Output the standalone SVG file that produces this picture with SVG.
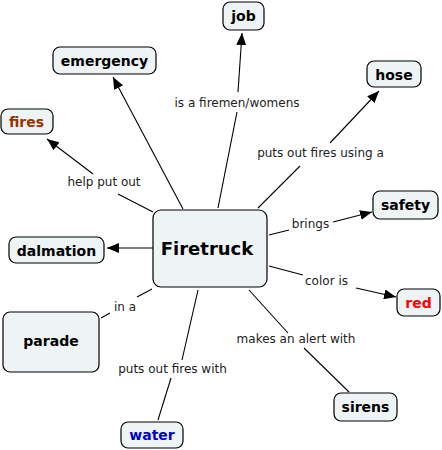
<svg xmlns="http://www.w3.org/2000/svg" width="442" height="450" viewBox="0 0 442 450">
<defs>
<marker id="arr" viewBox="0 0 12 10" refX="12" refY="5" markerWidth="12" markerHeight="10" markerUnits="userSpaceOnUse" orient="auto">
<path d="M0,0 L12,5 L0,10 z" fill="#000"/>
</marker>
<style>
.node rect{fill:#EEF3F5;stroke:#000;stroke-width:1.2}
.node text{font-family:"DejaVu Sans",Verdana,sans-serif;font-weight:bold;font-size:14px;text-anchor:middle;fill:#000}
.conn line{stroke:#000;stroke-width:1.1;fill:none}
.conn .a{marker-end:url(#arr)}
.lbl{font-family:"DejaVu Sans",Verdana,sans-serif;font-size:12px;text-anchor:middle;fill:#222}
</style>
</defs>
<rect width="442" height="450" fill="#fff"/>
<g id="connectors" class="conn">
<line x1="183" y1="209" x2="113" y2="77" class="a"/>
<line x1="218" y1="208" x2="237" y2="112"/>
<line x1="238" y1="92" x2="242" y2="33" class="a"/>
<line x1="258" y1="208" x2="300" y2="166"/>
<line x1="330" y1="143" x2="379" y2="91" class="a"/>
<line x1="153" y1="212" x2="118" y2="194"/>
<line x1="93" y1="174" x2="47" y2="139" class="a"/>
<line x1="153" y1="248" x2="107" y2="248" class="a"/>
<line x1="269" y1="235" x2="289" y2="230"/>
<line x1="333" y1="222" x2="372" y2="212" class="a"/>
<line x1="269" y1="266" x2="303" y2="275"/>
<line x1="356" y1="288" x2="396" y2="297" class="a"/>
<line x1="152" y1="289" x2="137" y2="297"/>
<line x1="110" y1="313" x2="101" y2="318"/>
<line x1="198" y1="290" x2="182" y2="360"/>
<line x1="171" y1="378" x2="158" y2="420"/>
<line x1="249" y1="290" x2="288" y2="333"/>
<line x1="304" y1="348" x2="349" y2="392"/>
<text class="lbl" x="237" y="107">is a firemen/womens</text>
<text class="lbl" x="320.5" y="157">puts out fires using a</text>
<text class="lbl" x="104" y="186">help put out</text>
<text class="lbl" x="310.5" y="228">brings</text>
<text class="lbl" x="326.5" y="285">color is</text>
<text class="lbl" x="125" y="311">in a</text>
<text class="lbl" x="296" y="343">makes an alert with</text>
<text class="lbl" x="172.5" y="373">puts out fires with</text>
</g>
<g id="node-firetruck" class="node"><rect x="153" y="210" width="114" height="77" rx="8"/><text x="207" y="255" style="font-size:18px">Firetruck</text></g>
<g id="node-job" class="node"><rect x="223" y="2" width="41" height="28" rx="7"/><text x="243.5" y="21">job</text></g>
<g id="node-hose" class="node"><rect x="367" y="61" width="54" height="26" rx="7"/><text x="394" y="79.5">hose</text></g>
<g id="node-emergency" class="node"><rect x="53" y="47" width="103" height="27" rx="7"/><text x="104.5" y="66">emergency</text></g>
<g id="node-fires" class="node"><rect x="1" y="109" width="52" height="25" rx="7"/><text x="26.5" y="127" style="fill:#993300">fires</text></g>
<g id="node-safety" class="node"><rect x="373" y="191" width="65" height="28" rx="7"/><text x="405.5" y="210">safety</text></g>
<g id="node-dalmation" class="node"><rect x="9" y="237" width="95" height="26" rx="7"/><text x="56.5" y="255.5">dalmation</text></g>
<g id="node-red" class="node"><rect x="397" y="289" width="43" height="27" rx="7"/><text x="418.5" y="308" style="fill:#FF0000">red</text></g>
<g id="node-parade" class="node"><rect x="3" y="312" width="96" height="60" rx="7"/><text x="51" y="346">parade</text></g>
<g id="node-sirens" class="node"><rect x="334" y="393" width="63" height="28" rx="7"/><text x="365.5" y="412">sirens</text></g>
<g id="node-water" class="node"><rect x="121" y="422" width="62" height="26" rx="7"/><text x="152" y="440" style="fill:#0000CC">water</text></g>
</svg>
